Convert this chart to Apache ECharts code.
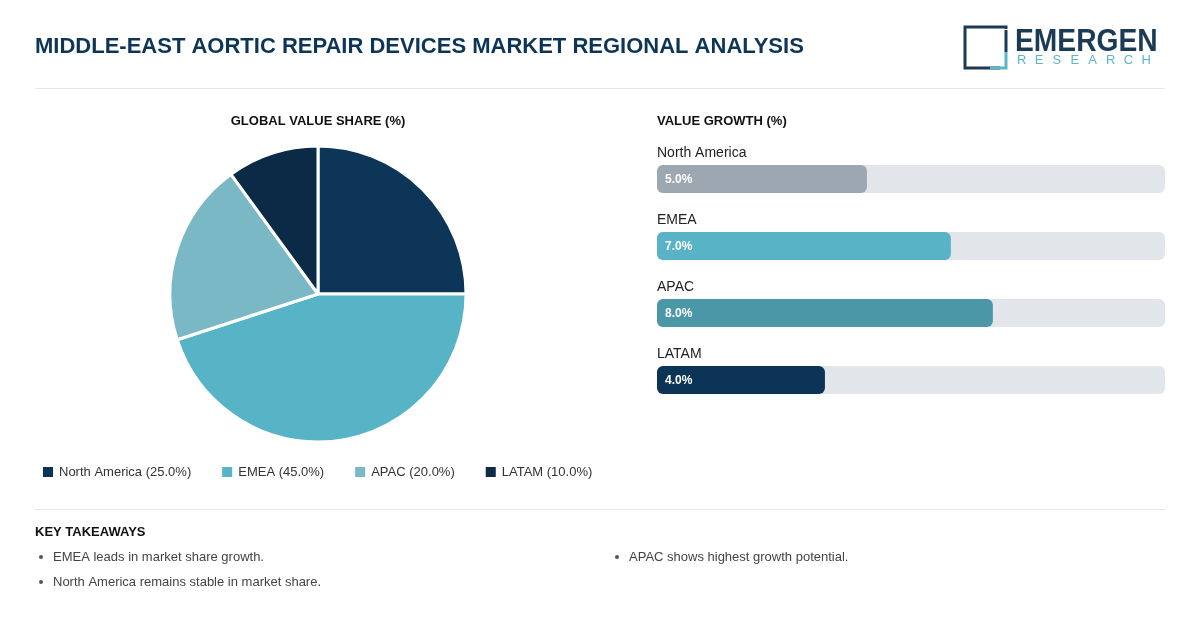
<!DOCTYPE html>
<html>
<head>
<meta charset="utf-8">
<script src="https://cdn.jsdelivr.net/npm/echarts@6/dist/echarts.min.js"></script>
<style>
html,body{margin:0;padding:0;background:#fff;}
#chart{width:1200px;height:620px;}
</style>
</head>
<body>
<div id="chart"></div>
<script>
const regions = ['North America', 'EMEA', 'APAC', 'LATAM'];
const shareValues = [25, 45, 20, 10];
const growthValues = [5.0, 7.0, 8.0, 4.0];
const pieColors = ['#0d3557', '#57b3c6', '#7bb8c6', '#0b2a45'];
const barColors = ['#9da7b2', '#57b3c5', '#4b97a8', '#0c3457'];
const takeawaysLeft = ['EMEA leads in market share growth.', 'North America remains stable in market share.'];
const takeawaysRight = ['APAC shows highest growth potential.'];

const FONT = '"Liberation Sans", Arial, sans-serif';
const chart = echarts.init(document.getElementById('chart'));

const graphics = [
  // title
  {type:'text', x:35, y:47, style:{text:'MIDDLE-EAST AORTIC REPAIR DEVICES MARKET REGIONAL ANALYSIS', font:'bold 22px ' + FONT, fill:'#0d3557', verticalAlign:'middle'}},
  // dividers
  {type:'rect', shape:{x:35, y:88, width:1130, height:1}, style:{fill:'#e5e7eb'}},
  {type:'rect', shape:{x:35, y:509, width:1130, height:1}, style:{fill:'#e5e7eb'}},
  // logo
  {type:'polyline', shape:{points:[[1006,29],[1006,27],[965,27],[965,68],[1000,68]]}, style:{stroke:'#1b3a54', lineWidth:3, fill:null}},
  {type:'polyline', shape:{points:[[1006,30],[1006,52]]}, style:{stroke:'#1b3a54', lineWidth:3, fill:null}},
  {type:'polyline', shape:{points:[[1006,52],[1006,68],[990,68]]}, style:{stroke:'#5bb6cc', lineWidth:3, fill:null}},
  {type:'text', x:1015, y:42, scaleX:0.91, style:{text:'EMERGEN', font:'bold 31px ' + FONT, fill:'#1b3a54', verticalAlign:'middle'}},
  // section headers
  {type:'text', x:318, y:121, style:{text:'GLOBAL VALUE SHARE (%)', font:'bold 13px ' + FONT, fill:'#111', align:'center', verticalAlign:'middle'}},
  {type:'text', x:657, y:121, style:{text:'VALUE GROWTH (%)', font:'bold 13px ' + FONT, fill:'#111', align:'left', verticalAlign:'middle'}},
  {type:'text', x:35, y:532, style:{text:'KEY TAKEAWAYS', font:'bold 13px ' + FONT, fill:'#111', align:'left', verticalAlign:'middle'}}
];
'RESEARCH'.split('').forEach((ch, i) => {
  graphics.push({type:'text', x:1017 + i*17.8, y:60, style:{text:ch, font:'13px ' + FONT, fill:'#5bb6cc', verticalAlign:'middle'}});
});
takeawaysLeft.forEach((t, i) => {
  graphics.push({type:'circle', shape:{cx:41, cy:557 + i*25, r:2}, style:{fill:'#555'}});
  graphics.push({type:'text', x:53, y:557 + i*25, style:{text:t, font:'13px ' + FONT, fill:'#444', verticalAlign:'middle'}});
});
takeawaysRight.forEach((t, i) => {
  graphics.push({type:'circle', shape:{cx:617, cy:557 + i*25, r:2}, style:{fill:'#555'}});
  graphics.push({type:'text', x:629, y:557 + i*25, style:{text:t, font:'13px ' + FONT, fill:'#444', verticalAlign:'middle'}});
});

const option = {
  animation: false,
  textStyle: {fontFamily: FONT},
  graphic: graphics,
  legend: {
    data: regions,
    left: 36, top: 460,
    icon: 'rect', itemWidth: 12, itemHeight: 12, itemGap: 29,
    textStyle: {fontSize: 13, color: '#333', fontFamily: FONT},
    formatter: name => name + ' (' + shareValues[regions.indexOf(name)].toFixed(1) + '%)'
  },
  grid: {left: 657, right: 35, top: 145.5, height: 268},
  xAxis: {type: 'value', min: 0, max: 12.1, show: false},
  yAxis: {
    type: 'category', data: regions, inverse: true,
    axisLine: {show: false}, axisTick: {show: false}, splitLine: {show: false},
    axisLabel: {inside: true, margin: 0, align: 'left', verticalAlign: 'bottom',
      padding: [0, 0, 19, 0], fontSize: 14, color: '#222', fontFamily: FONT}
  },
  series: [
    {
      type: 'pie', center: [318, 294], radius: 148, startAngle: 90,
      label: {show: false}, labelLine: {show: false},
      itemStyle: {borderColor: '#fff', borderWidth: 3},
      data: regions.map((r, i) => ({name: r, value: shareValues[i], itemStyle: {color: pieColors[i]}}))
    },
    {
      type: 'bar', barWidth: 28,
      showBackground: true,
      backgroundStyle: {color: '#e2e6ea', borderRadius: 6},
      itemStyle: {borderRadius: 6},
      label: {show: true, position: 'insideLeft', distance: 8, color: '#fff', fontWeight: 'bold', fontSize: 12,
        fontFamily: FONT, offset: [0, 1], formatter: p => p.value.toFixed(1) + '%'},
      data: growthValues.map((v, i) => ({value: v, itemStyle: {color: barColors[i]}}))
    }
  ]
};
chart.setOption(option);
</script>
</body>
</html>
